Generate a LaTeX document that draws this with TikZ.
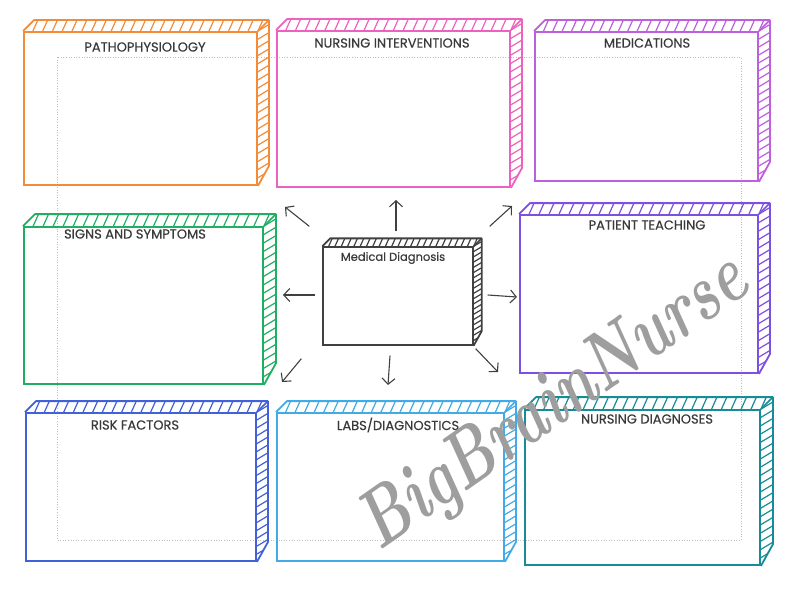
\documentclass[tikz,border=0pt]{standalone}
\usepackage{fontspec}
\setsansfont{Poppins}
\newfontfamily\headfont{Poppins}[FakeBold=0.5]
\usetikzlibrary{calc,arrows.meta,positioning}

\definecolor{pathoC}{RGB}{242,140,58}
\definecolor{intervC}{RGB}{236,98,190}
\definecolor{medsC}{RGB}{190,95,222}
\definecolor{signsC}{RGB}{32,175,98}
\definecolor{teachC}{RGB}{125,80,225}
\definecolor{riskC}{RGB}{66,96,215}
\definecolor{labsC}{RGB}{66,170,230}
\definecolor{ndiagC}{RGB}{24,140,150}
\definecolor{mdC}{RGB}{64,64,64}
\definecolor{headC}{RGB}{58,58,58}

\tikzset{
  card/.style={draw=#1, line width=1.8pt, inner sep=0pt},
  heading/.style={font=\headfont\fontsize{13}{13}\selectfont, text=headC, inner sep=1pt},
  arr/.style={draw=mdC, line width=1.1pt, -{Straight Barb[length=6pt, width=13pt]}},
  watermark/.style={font=\rmfamily\bfseries\itshape\fontsize{60}{60}\selectfont, text=black!38},
}

% hatched top and side strips of a sketched box
\newcommand{\depthbox}[3]{%
  \coordinate (#1-bnw) at ($(#1.north west)+(#3,-#3)$);
  \coordinate (#1-bne) at ($(#1.north east)+(#3,-#3)$);
  \coordinate (#1-bse) at ($(#1.south east)+(#3,-1.8*#3)$);
  \draw[#2, line width=1.8pt, line join=round]
    (#1.north west) -- (#1-bnw) -- (#1-bne) -- (#1-bse) -- (#1.south east);
  \draw[#2, line width=1.6pt] (#1.north east) -- (#1-bne);
  \begin{scope}
    \clip (#1.north west) -- (#1-bnw) -- (#1-bne) -- (#1.north east) -- cycle;
    \foreach \i in {0,...,25}{
      \pgfmathsetmacro{\hpos}{\i/24}
      \draw[#2, line width=1.2pt] ($(#1.north west)!\hpos!(#1.north east)$) -- ++(0.45*#3,-#3);
    }
  \end{scope}
  \begin{scope}
    \clip (#1.north east) -- (#1-bne) -- (#1-bse) -- (#1.south east) -- cycle;
    \foreach \i in {0,...,20}{
      \pgfmathsetmacro{\vpos}{\i/19}
      \draw[#2, line width=1.2pt] ($(#1.north east)!\vpos!(#1.south east)$) -- ++(#3,-0.6*#3);
    }
  \end{scope}
}

\begin{document}
\begin{tikzpicture}[x=1pt, y=-1pt]
  \useasboundingbox (0,0) rectangle (794,591);

  % dotted page frame
  \draw[black!25, dotted, line width=0.6pt] (57,57) rectangle (741,540);

  % top row
  \node[card=pathoC, minimum width=233pt, minimum height=153pt] (patho) at (140.5,108.5) {};
  \depthbox{patho}{pathoC}{11}
  \node[heading] (pathoT) at (145,47) {PATHOPHYSIOLOGY};

  \node[card=intervC, minimum width=233pt, minimum height=156pt] (interv) at (393.5,109) {};
  \depthbox{interv}{intervC}{11}
  \node[heading] (intervT) at (392,43) {NURSING INTERVENTIONS};

  \node[card=medsC, minimum width=223pt, minimum height=149pt] (meds) at (646.5,106.5) {};
  \depthbox{meds}{medsC}{11}
  \node[heading] (medsT) at (647,43) {MEDICATIONS};

  % middle row
  \node[card=signsC, minimum width=239pt, minimum height=157pt] (signs) at (143.5,305.5) {};
  \depthbox{signs}{signsC}{12}
  \node[heading] (signsT) at (135,234) {SIGNS AND SYMPTOMS};

  \node[card=mdC, line width=1.3pt, minimum width=150pt, minimum height=98pt] (md) at (398,296) {};
  \depthbox{md}{mdC}{8}
  \node[heading, font=\headfont\fontsize{11.5}{11.5}\selectfont] (mdT) at (393,258) {Medical Diagnosis};

  \node[card=teachC, minimum width=238pt, minimum height=158pt] (teach) at (639,294) {};
  \depthbox{teach}{teachC}{11}
  \node[heading] (teachT) at (647,225) {PATIENT TEACHING};

  % bottom row
  \node[card=riskC, minimum width=230pt, minimum height=148pt] (risk) at (141,487) {};
  \depthbox{risk}{riskC}{11}
  \node[heading] (riskT) at (135,425) {RISK FACTORS};

  \node[card=labsC, minimum width=227pt, minimum height=148pt] (labs) at (390.5,487) {};
  \depthbox{labs}{labsC}{11}
  \node[heading] (labsT) at (398,425) {LABS/DIAGNOSTICS};

  \node[card=ndiagC, minimum width=235pt, minimum height=155pt] (ndiag) at (642.5,487.5) {};
  \depthbox{ndiag}{ndiagC}{12}
  \node[heading] (ndiagT) at (647,419) {NURSING DIAGNOSES};

  % arrows out of the centre box
  \coordinate (tipNW) at (285,207);
  \coordinate (tipN)  at (396,200);
  \coordinate (tipNE) at (512,206);
  \coordinate (tipW)  at (283,295);
  \coordinate (tipE)  at (517,297);
  \coordinate (tipSW) at (282,382);
  \coordinate (tipS)  at (388,385);
  \coordinate (tipSE) at (498,372);
  \draw[arr] ([shift={(-13,-20)}]md.north west) -- (tipNW);
  \draw[arr] ([shift={(-2,-15)}]md.north) -- (tipN);
  \draw[arr] ([shift={(16,-20)}]md.north east) -- (tipNE);
  \draw[arr] ([shift={(-7,-1)}]md.west) -- (tipW);
  \draw[arr] ([shift={(14,-1)}]md.east) -- (tipE);
  \draw[arr] ([shift={(-21,13)}]md.south west) -- (tipSW);
  \draw[arr] ([shift={(-8,10)}]md.south) -- (tipS);
  \draw[arr] ([shift={(2,3)}]md.south east) -- (tipSE);

  % watermark
  \node[watermark, rotate=35, yscale=1.35] (wm) at (555,405) {BigBrainNurse};
\end{tikzpicture}
\end{document}
